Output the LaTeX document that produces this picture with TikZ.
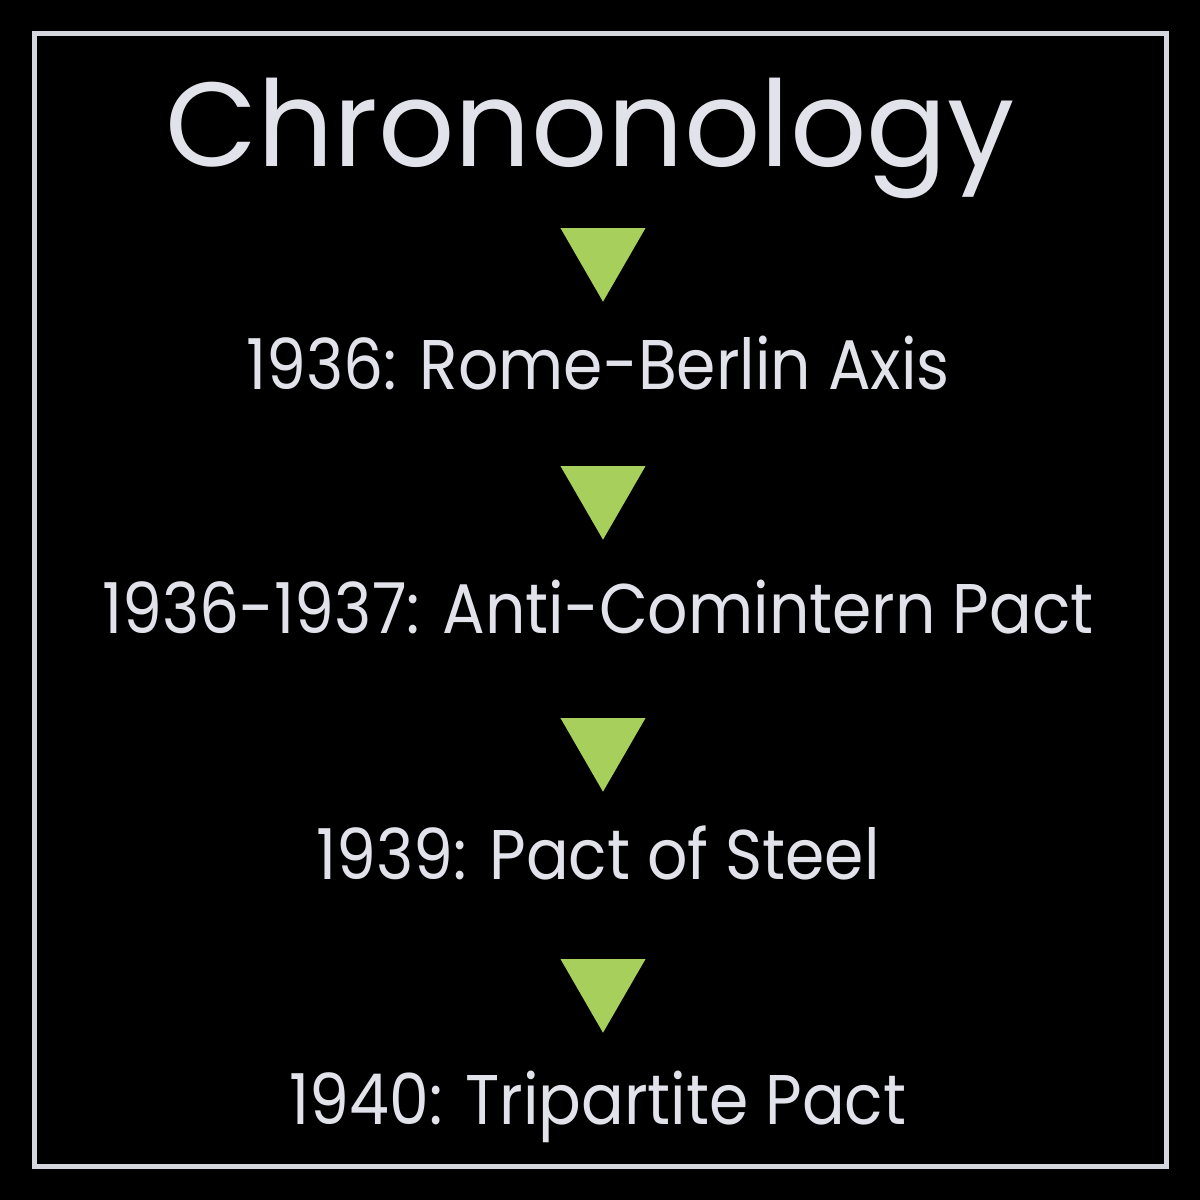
\documentclass[tikz,border=0pt]{standalone}
\usepackage{fontspec}
\setmainfont{Poppins}
\newfontfamily\evfont[FakeStretch=0.9]{Poppins}
\usetikzlibrary{shapes.geometric}
\definecolor{txtgray}{HTML}{E2E2EA}
\definecolor{framegray}{HTML}{D6D6DE}
\definecolor{leafgreen}{HTML}{A6CF5B}
\tikzset{title/.style={anchor=base,text=txtgray,inner sep=0pt,font=\fontsize{34}{40}\selectfont},
  ev/.style={anchor=base,text=txtgray,inner sep=0pt,font=\evfont\fontsize{20}{24}\selectfont},
  tri/.style={regular polygon,regular polygon sides=3,regular polygon rotate=180,fill=leafgreen,minimum size=0.98cm,inner sep=0pt,outer sep=0pt}}

\begin{document}
\begin{tikzpicture}
  \fill[black] (0,0) rectangle (12,12);
  \useasboundingbox (0,0) rectangle (12,12);
  \draw[framegray,line width=1.42pt] (0.345,0.335) rectangle (11.665,11.66);
  \node[title] (t) at (5.9,10.33) {Chrononology};
  \node[tri] (a1) at (6.03,9.473) {};
  \node[ev] (e1) at (5.98,8.10) {1936: Rome-Berlin Axis};
  \node[tri] (a2) at (6.03,7.093) {};
  \node[ev] (e2) at (5.98,5.66) {1936-1937: Anti-Comintern Pact};
  \node[tri] (a3) at (6.03,4.573) {};
  \node[ev] (e3) at (5.98,3.20) {1939: Pact of Steel};
  \node[tri] (a4) at (6.03,2.163) {};
  \node[ev] (e4) at (5.98,0.76) {1940: Tripartite Pact};
\end{tikzpicture}
\end{document}
